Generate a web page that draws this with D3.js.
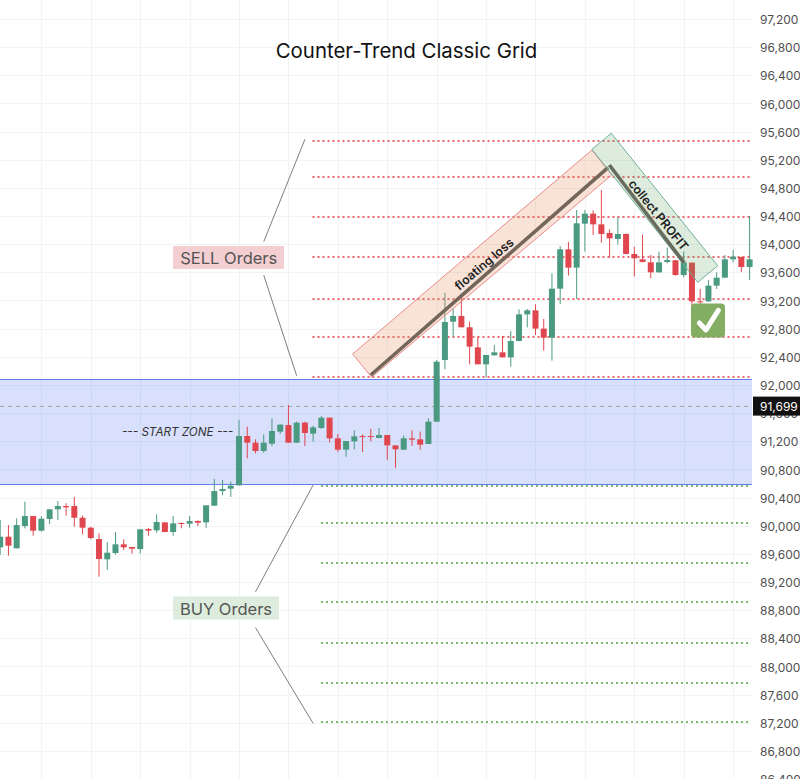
<!DOCTYPE html>
<html><head><meta charset="utf-8">
<script src="https://cdn.jsdelivr.net/npm/d3@7"></script>
<style>html,body{margin:0;padding:0;background:#fff}svg{display:block}text{font-family:Inter,"Liberation Sans",sans-serif}</style>
</head><body><div id="chart"></div>
<script>
const opens=[89692,89843,89678,89995,90137,89929,90095,90232,90279,90279,90113,89971,89810,89521,89611,89735,89697,89668,89952,89933,90047,89910,90038,90028,90066,90047,90284,90492,90526,90573,91274,91179,91061,91165,91336,91430,91179,91464,91307,91388,91535,91241,91080,91198,91274,91274,91246,91288,91141,91080,91241,91227,91160,91478,92354,92899,92980,92819,92534,92293,92421,92463,92392,92624,93003,93060,92800,92672,93368,93927,93667,94292,94434,94282,94159,94074,94145,93861,93785,93742,93600,93747,93771,93562,93738,93188,93188,93411,93524,93785,93818,93676];
const highs=[90080,90009,90104,90341,90137,90137,90237,90350,90317,90407,90142,89986,89891,89768,89910,89806,89701,89948,89967,90161,90047,90137,90047,90137,90076,90289,90663,90649,90625,91501,91407,91227,91298,91525,91440,91715,91478,91478,91421,91558,91535,91302,91203,91355,91298,91378,91388,91288,91141,91284,91355,91336,91525,92354,93311,93089,93269,92899,92686,92426,92568,92696,92767,93074,93079,93146,92937,93586,93974,94031,94486,94486,94481,94770,94211,94382,94154,93965,94131,93847,93894,93951,93775,93894,93738,93363,93491,93600,93847,93918,93823,94401];
const lows=[89583,89573,89678,89962,89858,89915,90023,90080,90142,89986,89877,89810,89275,89370,89588,89654,89602,89602,89858,89900,89905,89858,89962,89971,89995,89971,90279,90431,90407,90573,90957,91028,91037,91132,91302,91179,91179,91132,91194,91374,91184,91047,90980,91085,91047,91198,91246,90938,90819,91075,91132,91080,91160,91478,92222,92686,92819,92293,92293,92108,92416,92392,92260,92620,92819,92710,92487,92345,93150,93553,93221,93894,94131,94022,93813,93993,93856,93539,93742,93515,93595,93728,93553,93529,93112,93136,93183,93363,93524,93742,93605,93491];
const closes=[89843,89716,90009,90137,89929,90099,90232,90279,90260,90113,89971,89825,89526,89616,89735,89692,89673,89948,89929,90052,89910,90033,90024,90066,90042,90289,90492,90521,90568,91274,91179,91061,91179,91345,91435,91179,91464,91317,91397,91535,91241,91080,91203,91269,91265,91265,91288,91141,91085,91241,91222,91151,91478,92330,92894,92980,92819,92544,92293,92426,92463,92392,92624,93003,93060,92800,92672,93368,93927,93667,94297,94434,94282,94145,94083,94145,93861,93799,93747,93600,93742,93775,93562,93742,93188,93179,93411,93524,93785,93823,93676,93785];

const axisTicks=d3.range(86400,97201,400);
const gridBars=[5,11,17,23,29,35,41,47,53,59,65,71,77,83,89];
const sellLevels=[95466,94955,94386,93818,93221,92681,92113];
const buyLevels=[90564,90038,89470,88916,88333,87765,87210];
const zoneTop=92084, zoneBottom=90592, lastPrice=91699;
const titleText="Counter-Trend Classic Grid";

// annotations as [bar index, price]
const lossBand=[[42.8,92440],[71.85,95338],[74.26,94983],[45.1,92109]];
const lossLine=[[45.0,92141],[73.8,95087]];
const profitBand=[[71.85,95348],[74.2,95576],[87.13,93694],[84.7,93458]];
const profitLine=[[73.97,95125],[83.04,93737]];
const sellLeaders=[[[37.0,95490],[32.0,94035]],[[32.0,93560],[36.0,92130]]];
const buyLeaders=[[[38.0,90578],[31.0,89060]],[[31.0,88550],[38.0,87190]]];
const checkMark=[[84.9,92880],[85.7,92780],[87.2,93060]];

const W=800,H=779,plotR=752;
const x=d3.scaleLinear().domain([0,91]).range([0.2,749.6]);
const y=d3.scaleLinear().domain([86400,97200]).range([779,19]);
const cy=p=>Math.round(y(p))+0.5;
const line=d3.line().x(d=>x(d[0])).y(d=>y(d[1]));
const poly=a=>line(a)+"Z";

const svg=d3.select("#chart").append("svg").attr("width",W).attr("height",H);

// grid
svg.append("g").selectAll("line").data(axisTicks).join("line")
 .attr("x1",0).attr("x2",plotR).attr("y1",d=>cy(d)).attr("y2",d=>cy(d)).attr("stroke","#f2f3f5");
svg.append("g").selectAll("line").data(gridBars).join("line")
 .attr("x1",d=>Math.round(x(d))+.5).attr("x2",d=>Math.round(x(d))+.5).attr("y1",0).attr("y2",H).attr("stroke","#f2f3f5");

// right axis
const axis=d3.axisRight(y).tickValues(axisTicks).tickSize(0).tickPadding(0).tickFormat(d3.format(","));
const ag=svg.append("g").attr("transform",`translate(760,0.8)`).call(axis);
ag.select(".domain").remove();
ag.selectAll("text").attr("font-size",12).attr("fill","#4f4f4f");

// start zone
svg.append("rect").attr("x",0).attr("width",plotR).attr("y",cy(zoneTop)).attr("height",cy(zoneBottom)-cy(zoneTop))
 .attr("fill","#3a66f0").attr("fill-opacity",0.2);
[zoneTop,zoneBottom].forEach(p=>svg.append("line").attr("x1",0).attr("x2",plotR).attr("y1",cy(p)).attr("y2",cy(p)).attr("stroke","#5f7de6").attr("stroke-width",1));

// last price
svg.append("line").attr("x1",0).attr("x2",plotR).attr("y1",cy(lastPrice)).attr("y2",cy(lastPrice))
 .attr("stroke","#a5a5a8").attr("stroke-dasharray","4 4");
svg.append("rect").attr("x",753).attr("width",47).attr("y",y(lastPrice)-9.5).attr("height",19).attr("fill","#111");
svg.append("text").attr("x",760).attr("y",y(lastPrice)+0.8).attr("dy","0.36em").attr("font-size",12).attr("fill","#fff").text(d3.format(",")(lastPrice));

// levels
svg.append("g").selectAll("line").data(sellLevels).join("line")
 .attr("x1",312.5).attr("x2",751).attr("y1",d=>Math.round(y(d))).attr("y2",d=>Math.round(y(d)))
 .attr("stroke","#e8666c").attr("stroke-width",2).attr("stroke-dasharray","2 3");
svg.append("g").selectAll("line").data(buyLevels).join("line")
 .attr("x1",321).attr("x2",751).attr("y1",d=>Math.round(y(d))).attr("y2",d=>Math.round(y(d)))
 .attr("stroke","#7db86e").attr("stroke-width",2).attr("stroke-dasharray","2 3");

// candles
const cg=svg.append("g");
opens.forEach((o,i)=>{
 const c=closes[i],col=c>=o?"#4a9a82":"#e0464e";
 cg.append("line").attr("x1",x(i)).attr("x2",x(i)).attr("y1",y(highs[i])).attr("y2",y(lows[i])).attr("stroke",col).attr("stroke-width",1);
 const t=Math.max(o,c),b=Math.min(o,c);
 cg.append("rect").attr("x",x(i)-3).attr("width",6).attr("y",y(t)).attr("height",Math.max(y(b)-y(t),1)).attr("fill",col);
});

// leaders
[...sellLeaders,...buyLeaders].forEach(s=>svg.append("path").attr("d",line(s)).attr("fill","none").attr("stroke","#7d7d7d").attr("stroke-width",1));

// floating loss
svg.append("path").attr("d",poly(lossBand)).attr("fill","#e89060").attr("fill-opacity",0.25).attr("stroke","#ea8b8b").attr("stroke-width",1);
svg.append("path").attr("d",line(lossLine)).attr("fill","none").attr("stroke","#75665a").attr("stroke-width",3.6);
// collect profit
svg.append("path").attr("d",poly(profitBand)).attr("fill","#5a9f5a").attr("fill-opacity",0.2).attr("stroke","#6fb09b").attr("stroke-width",1);
svg.append("path").attr("d",line(profitLine)).attr("fill","none").attr("stroke","#676c5e").attr("stroke-width",3.6);

svg.append("text").attr("transform","translate(484,264) rotate(-40.5)").attr("text-anchor","middle").attr("dy","0.36em")
 .attr("font-size",12.3).attr("font-weight",600).attr("fill","#222").text("floating loss");
svg.append("text").attr("transform","translate(658.5,215) rotate(51.1)").attr("text-anchor","middle").attr("dy","0.36em")
 .attr("font-size",12.3).attr("font-weight",600).attr("fill","#222").text("collect PROFIT");

// check
svg.append("rect").attr("x",691).attr("y",303.5).attr("width",34).attr("height",34).attr("rx",4).attr("fill","#84ad64");
svg.append("path").attr("d",line(checkMark)).attr("fill","none").attr("stroke","#fff").attr("stroke-width",5).attr("stroke-linecap","round").attr("stroke-linejoin","round");

// labels
svg.append("rect").attr("x",173).attr("y",246).attr("width",111).attr("height",23).attr("fill","#f4cfd2");
svg.append("text").attr("x",228.8).attr("y",258.5).attr("dy","0.36em").attr("text-anchor","middle").attr("font-size",16.5).attr("fill","#555").text("SELL Orders");
svg.append("rect").attr("x",173).attr("y",596.5).attr("width",106).attr("height",23).attr("fill","#deecde");
svg.append("text").attr("x",226).attr("y",609).attr("dy","0.36em").attr("text-anchor","middle").attr("font-size",16.5).attr("fill","#555").text("BUY Orders");
svg.append("text").attr("x",177.5).attr("y",432).attr("dy","0.36em").attr("text-anchor","middle").attr("font-size",11.7).attr("font-style","italic").attr("fill","#333").text("--- START ZONE ---");
svg.append("text").attr("x",406.5).attr("y",51).attr("dy","0.36em").attr("text-anchor","middle").attr("font-size",20.4).attr("fill","#111").text(titleText);
</script></body></html>
